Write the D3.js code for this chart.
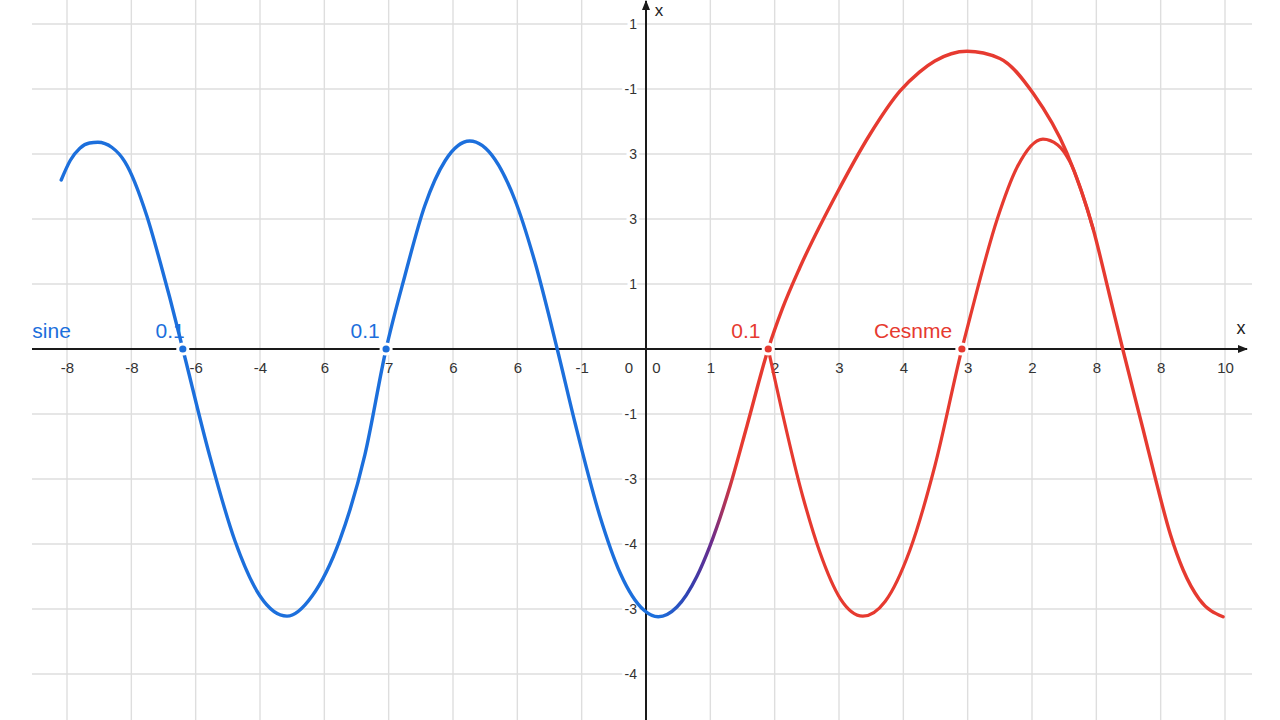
<!DOCTYPE html>
<html lang="en">
<head>
<meta charset="UTF-8">
<title>sine / cosine</title>
<script src="https://d3js.org/d3.v7.min.js"></script>
<style>
  html, body { margin: 0; padding: 0; background: #fff; }
  svg { display: block; }
  text { font-family: "Liberation Sans", Arial, sans-serif; }
</style>
</head>
<body>
<div id="chart"></div>
<script>
// ---- data (x, y in axis units) ----
var xTicks = [-9, -8, -7, -6, -5, -4, -3, -2, -1, 0, 1, 2, 3, 4, 5, 6, 7, 8, 9]
var xTickLabels = ["-8", "-8", "-6", "-4", "6", "7", "6", "6", "-1", "0", "1", "2", "3", "4", "3", "2", "8", "8", "10"]
var yTicks = [5, 4, 3, 2, 1, -1, -2, -3, -4, -5]
var yTickLabels = ["1", "-1", "3", "3", "1", "-1", "-3", "-4", "-3", "-4"]

// blue part (sine), runs into the red arch
var sineX = [-9.09, -8.95, -8.80, -8.65, -8.52, -8.30, -8.10, -7.76, -7.55, -7.40, -7.20,
             -6.78, -6.39, -6.00, -5.58, -5.19, -4.76, -4.37, -4.04,
             -3.75, -3.44, -3.12, -2.74, -2.35, -2.04, -1.73, -1.38,
             -1.10, -0.72, -0.40, -0.03, 0.19, 0.48, 0.79, 0.99, 1.31, 1.57, 1.90]
var sineY = [2.60, 2.90, 3.09, 3.17, 3.18, 3.10, 2.88, 2.05, 1.33, 0.78, 0,
             -1.65, -2.95, -3.80, -4.11, -3.80, -2.94, -1.63, 0,
             1.12, 2.20, 2.90, 3.20, 2.92, 2.30, 1.35, 0,
             -1.15, -2.56, -3.45, -4.02, -4.12, -3.97, -3.50, -3.04, -2.10, -1.18, 0]

// red arch (cosine)
var cosX = [1.90, 2.12, 2.39, 2.98, 3.48, 3.95, 4.25, 4.49, 4.99, 5.50, 6.02, 6.54, 6.95, 7.20, 7.41, 7.73, 7.94, 8.15, 8.35, 8.60, 8.97]
var cosY = [0, 0.62, 1.25, 2.42, 3.30, 3.97, 4.26, 4.43, 4.58, 4.47, 3.93, 3.02, 1.85, 0.85, 0, -1.25, -2.08, -2.85, -3.40, -3.85, -4.12]

// second red wave
var cos2X = [1.90, 2.44, 2.70, 3.02, 3.37, 3.72, 4.10, 4.49, 4.91, 5.04, 5.46, 5.77, 6.17, 6.40, 6.59, 6.95]
var cos2Y = [0, -2.28, -3.12, -3.84, -4.11, -3.88, -3.10, -1.80, 0, 0.50, 2.00, 2.80, 3.23, 3.14, 2.88, 1.85]

var sineDots = [-7.20, -4.04]
var cosDots = [1.90, 4.91]

var width = 1280
var height = 720
var blue = "#1c6fdc"
var red = "#e63a30"

var x = d3.scaleLinear().domain([-9, 9]).range([67, 1225])
var y = d3.scaleLinear().domain([-5, 5]).range([674, 24])

var svg = d3.select("#chart")
    .append("svg")
    .attr("width", width)
    .attr("height", height)

// gradient for the blue -> red hand-off
var defs = svg.append("defs")
var grad = defs.append("linearGradient")
    .attr("id", "handoff")
    .attr("gradientUnits", "userSpaceOnUse")
    .attr("x1", x(0.2)).attr("y1", 0)
    .attr("x2", x(1.4)).attr("y2", 0)
grad.append("stop").attr("offset", "0%").attr("stop-color", blue)
grad.append("stop").attr("offset", "40%").attr("stop-color", "#3340b0")
grad.append("stop").attr("offset", "68%").attr("stop-color", "#6b2c8c")
grad.append("stop").attr("offset", "100%").attr("stop-color", red)

defs.append("marker")
    .attr("id", "arrow")
    .attr("viewBox", "0 0 10 10")
    .attr("refX", 9).attr("refY", 5)
    .attr("markerWidth", 5).attr("markerHeight", 5)
    .attr("orient", "auto")
  .append("path")
    .attr("d", "M0,1 L10,5 L0,9 Z")
    .attr("fill", "#1a1a1a")

// grid
var grid = svg.append("g").attr("stroke", "#dedede").attr("stroke-width", 1.4)
grid.selectAll(".vg")
    .data(xTicks)
    .enter().append("line")
    .attr("x1", d => x(d)).attr("x2", d => x(d))
    .attr("y1", 0).attr("y2", height)
grid.selectAll(".hg")
    .data(yTicks)
    .enter().append("line")
    .attr("x1", 32).attr("x2", 1252)
    .attr("y1", d => y(d)).attr("y2", d => y(d))

// axis lines
svg.append("line")
    .attr("x1", 32).attr("x2", 1247)
    .attr("y1", y(0)).attr("y2", y(0))
    .attr("stroke", "#1a1a1a").attr("stroke-width", 2)
    .attr("marker-end", "url(#arrow)")
svg.append("line")
    .attr("x1", x(0)).attr("x2", x(0))
    .attr("y1", height).attr("y2", 1)
    .attr("stroke", "#1a1a1a").attr("stroke-width", 2)
    .attr("marker-end", "url(#arrow)")

// tick labels
var xAxis = svg.append("g")
    .attr("transform", "translate(0," + y(0) + ")")
    .call(d3.axisBottom(x)
        .tickValues(xTicks)
        .tickFormat((d, i) => xTickLabels[i])
        .tickSize(0)
        .tickPadding(13))
xAxis.select(".domain").remove()
xAxis.selectAll("text")
    .attr("font-size", 15)
    .attr("fill", "#333")
    .attr("font-family", "Liberation Sans, Arial, sans-serif")
xAxis.selectAll(".tick").filter(d => d === 0).select("text").attr("dx", 10)
// origin label left of the y axis
xAxis.append("text")
    .attr("x", x(0) - 17).attr("y", 13).attr("dy", "0.71em")
    .attr("text-anchor", "middle")
    .attr("font-size", 15).attr("fill", "#333")
    .text("0")

var yAxis = svg.append("g")
    .attr("transform", "translate(" + x(0) + ",0)")
    .call(d3.axisLeft(y)
        .tickValues(yTicks)
        .tickFormat((d, i) => yTickLabels[i])
        .tickSize(0)
        .tickPadding(9))
yAxis.select(".domain").remove()
yAxis.selectAll("text")
    .attr("font-size", 14)
    .attr("fill", "#333")
    .attr("font-family", "Liberation Sans, Arial, sans-serif")
    .attr("stroke", "#fff").attr("stroke-width", 6)
    .attr("paint-order", "stroke")

// curves
var line = d3.line()
    .x(d => x(d[0]))
    .y(d => y(d[1]))
    .curve(d3.curveMonotoneX)

var mainPts = d3.zip(sineX, sineY).concat(d3.zip(cosX, cosY).slice(1))
var secondPts = d3.zip(cos2X, cos2Y)

svg.append("path")
    .datum(secondPts)
    .attr("d", line)
    .attr("fill", "none")
    .attr("stroke", red)
    .attr("stroke-width", 3.2)
    .attr("stroke-linecap", "round")

svg.append("path")
    .datum(mainPts)
    .attr("d", line)
    .attr("fill", "none")
    .attr("stroke", "url(#handoff)")
    .attr("stroke-width", 3.4)
    .attr("stroke-linecap", "round")

// points on the x axis
function dots(vals, color) {
    svg.selectAll(null)
        .data(vals)
        .enter().append("circle")
        .attr("cx", d => x(d))
        .attr("cy", y(0))
        .attr("r", 3.6)
        .attr("fill", color)
        .attr("stroke", "#fff")
        .attr("stroke-width", 6)
        .attr("paint-order", "stroke")
}
dots(sineDots, blue)
dots(cosDots, red)

// annotations
var notes = [
    {t: "sine", x: -9.24, anchor: "middle", c: blue},
    {t: "0.1", x: -7.17, anchor: "end", c: blue},
    {t: "0.1", x: -4.14, anchor: "end", c: blue},
    {t: "0.1", x: 1.78, anchor: "end", c: red},
    {t: "Cesnme", x: 4.76, anchor: "end", c: red}
]
svg.selectAll(".note")
    .data(notes)
    .enter().append("text")
    .attr("x", d => x(d.x))
    .attr("y", y(0) - 11)
    .attr("text-anchor", d => d.anchor)
    .attr("font-size", 21)
    .attr("fill", d => d.c)
    .text(d => d.t)

// axis names
svg.append("text")
    .attr("x", 1241).attr("y", 334)
    .attr("text-anchor", "middle")
    .attr("font-size", 18).attr("fill", "#222")
    .text("x")
svg.append("text")
    .attr("x", 659).attr("y", 16)
    .attr("text-anchor", "middle")
    .attr("font-size", 17).attr("fill", "#222")
    .text("x")
</script>
</body>
</html>
